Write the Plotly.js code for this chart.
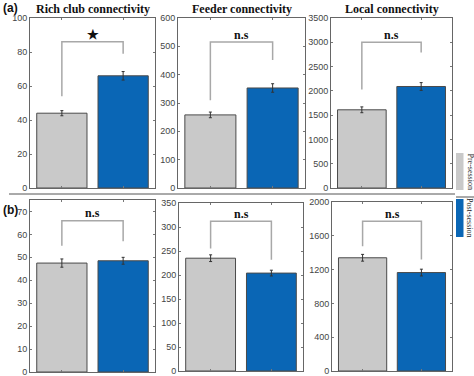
<!DOCTYPE html>
<html>
<head>
<meta charset="utf-8">
<script src="https://cdn.plot.ly/plotly-3.0.1.min.js"></script>
<style>html,body{margin:0;padding:0;background:#fff;}#chart{width:474px;height:376px;}</style>
</head>
<body>
<div id="chart"></div>
<script>
// ---- data ----
const groups = ["Pre-session", "Post-session"];
const panelTitles = ["Rich club connectivity", "Feeder connectivity", "Local connectivity"];
// row (a)
const preA = [44, 258, 1610];
const postA = [66, 353, 2090];
const preAErr = [1.5, 10, 60];
const postAErr = [2.5, 15, 80];
const sigA = ["★", "n.s", "n.s"];
const sigTopA = [86, 515, 3000];
const sigLeftA = [54, 310, 2030];
const sigRightA = [79, 452, 2790];
const sigLabelYA = [90, 540, 3160];
// row (b)
const preB = [47.5, 235, 1340];
const postB = [48.5, 204, 1165];
const preBErr = [1.8, 7, 40];
const postBErr = [1.5, 6, 40];
const sigB = ["n.s", "n.s", "n.s"];
const sigTopB = [66, 312, 1772];
const sigLeftB = [55, 255, 1476];
const sigRightB = [57, 232, 1319];
const sigLabelYB = [69.5, 328, 1860];
// axes
const yRangesA = [[0, 100], [0, 600], [0, 3500]];
const yDtickA = [20, 100, 500];
const yRangesB = [[0, 75], [0, 350], [0, 2000]];
const yDtickB = [10, 50, 400];

const grayC = "#c9c9c9", blueC = "#0a66b5";
const W = 474, H = 376;
const px = (a, b) => [a / W, b / W];
const py = (top, bot) => [1 - bot / H, 1 - top / H];
const domA = [[px(30, 155), py(18, 188)], [px(178, 305), py(18, 188)], [px(331, 452), py(18, 188)]];
const domB = [[px(30, 155), py(200, 372)], [px(179, 303), py(203, 371)], [px(332, 452), py(202, 371)]];

const traces = [];
const layout = {
  width: W, height: H, margin: {l: 0, r: 0, t: 0, b: 0},
  paper_bgcolor: "#fff", plot_bgcolor: "#fff", showlegend: false,
  font: {family: "Liberation Sans, Arial, sans-serif", size: 9, color: "#444"},
  annotations: [], shapes: []
};

function addPanel(idx, pre, post, preE, postE, sig, top, lb, rb, ly, yr, dt, dom, title) {
  const n = idx + 1;
  const xa = "x" + (n === 1 ? "" : n), ya = "y" + (n === 1 ? "" : n);
  const xk = "xaxis" + (n === 1 ? "" : n), yk = "yaxis" + (n === 1 ? "" : n);
  [[1, pre, preE, grayC], [2, post, postE, blueC]].forEach(([xv, v, e, c]) => {
    traces.push({type: "bar", x: [xv], y: [v], width: 0.82, xaxis: xa, yaxis: ya,
      marker: {color: c, line: {color: "#4a4a4a", width: 1}},
      error_y: {type: "data", array: [e], visible: true, color: "#333", thickness: 1, width: 1.5},
      hoverinfo: "skip"});
  });
  traces.push({type: "scatter", mode: "lines", x: [1, 1, 2, 2], y: [lb, top, top, rb],
    xaxis: xa, yaxis: ya, line: {color: "#a8a8a8", width: 1.5}, hoverinfo: "skip"});
  layout.annotations.push({xref: xa, yref: ya, x: 1.5, y: ly, text: sig, showarrow: false,
    font: {family: "Liberation Serif, Times New Roman, serif", size: sig === "★" ? 13 : 12, color: "#111", weight: "bold"},
    xanchor: "center", yanchor: "middle"});
  layout[xk] = {domain: dom[0], range: [0.48, 2.52], tickvals: [1, 2], ticktext: ["", ""], ticks: "inside",
    ticklen: 2, tickcolor: "#777", showline: true, linecolor: "#666", linewidth: 1, mirror: "ticks",
    showgrid: false, zeroline: false, anchor: ya, fixedrange: true};
  layout[yk] = {domain: dom[1], range: yr, dtick: dt, tick0: 0, ticks: "inside", ticklen: 2, tickcolor: "#777",
    showline: true, linecolor: "#666", linewidth: 1, mirror: "ticks", showgrid: false, zeroline: false,
    anchor: xa, tickfont: {size: 9, color: "#444"}, ticklabeloverflow: "allow", fixedrange: true};
  if (title) {
    layout.annotations.push({xref: "paper", yref: "paper", x: (dom[0][0] + dom[0][1]) / 2, y: 1 - 9 / H,
      text: title, showarrow: false, xanchor: "center", yanchor: "middle",
      font: {family: "Liberation Serif, Times New Roman, serif", size: 12, color: "#111", weight: "bold"}});
  }
}

for (let i = 0; i < 3; i++) {
  addPanel(i, preA[i], postA[i], preAErr[i], postAErr[i], sigA[i], sigTopA[i], sigLeftA[i], sigRightA[i], sigLabelYA[i],
    yRangesA[i], yDtickA[i], domA[i], panelTitles[i]);
}
for (let i = 0; i < 3; i++) {
  addPanel(i + 3, preB[i], postB[i], preBErr[i], postBErr[i], sigB[i], sigTopB[i], sigLeftB[i], sigRightB[i], sigLabelYB[i],
    yRangesB[i], yDtickB[i], domB[i], null);
}

// panel labels
layout.annotations.push({xref: "paper", yref: "paper", x: 1 / W, y: 1 - 8 / H, text: "(a)", showarrow: false,
  xanchor: "left", yanchor: "middle", font: {family: "Liberation Sans, Arial, sans-serif", size: 12, color: "#111", weight: "bold"}});
layout.annotations.push({xref: "paper", yref: "paper", x: 1 / W, y: 1 - 210 / H, text: "(b)", showarrow: false,
  xanchor: "left", yanchor: "middle", font: {family: "Liberation Sans, Arial, sans-serif", size: 12, color: "#111", weight: "bold"}});

// separator lines
layout.shapes.push({type: "line", xref: "paper", yref: "paper", x0: 9 / W, x1: 455 / W, y0: 1 - 194 / H, y1: 1 - 194 / H,
  line: {color: "#555", width: 1}});
layout.shapes.push({type: "line", xref: "paper", yref: "paper", x0: 456 / W, x1: 474 / W, y0: 1 - 197 / H, y1: 1 - 197 / H,
  line: {color: "#555", width: 1}});

// legend
const legItems = [[groups[0], grayC, 153, 190], [groups[1], blueC, 199, 237]];
legItems.forEach(([name, c, t, b]) => {
  layout.shapes.push({type: "rect", xref: "paper", yref: "paper", x0: 456 / W, x1: 463.5 / W, y0: 1 - b / H, y1: 1 - t / H,
    fillcolor: c, line: {width: 0}});
  layout.annotations.push({xref: "paper", yref: "paper", x: 470 / W, y: 1 - (t + b) / 2 / H, text: name, showarrow: false,
    textangle: 90, xanchor: "center", yanchor: "middle",
    font: {family: "Liberation Serif, Times New Roman, serif", size: 8, color: "#222"}});
});

Plotly.newPlot("chart", traces, layout, {staticPlot: true, displayModeBar: false});
</script>
</body>
</html>
